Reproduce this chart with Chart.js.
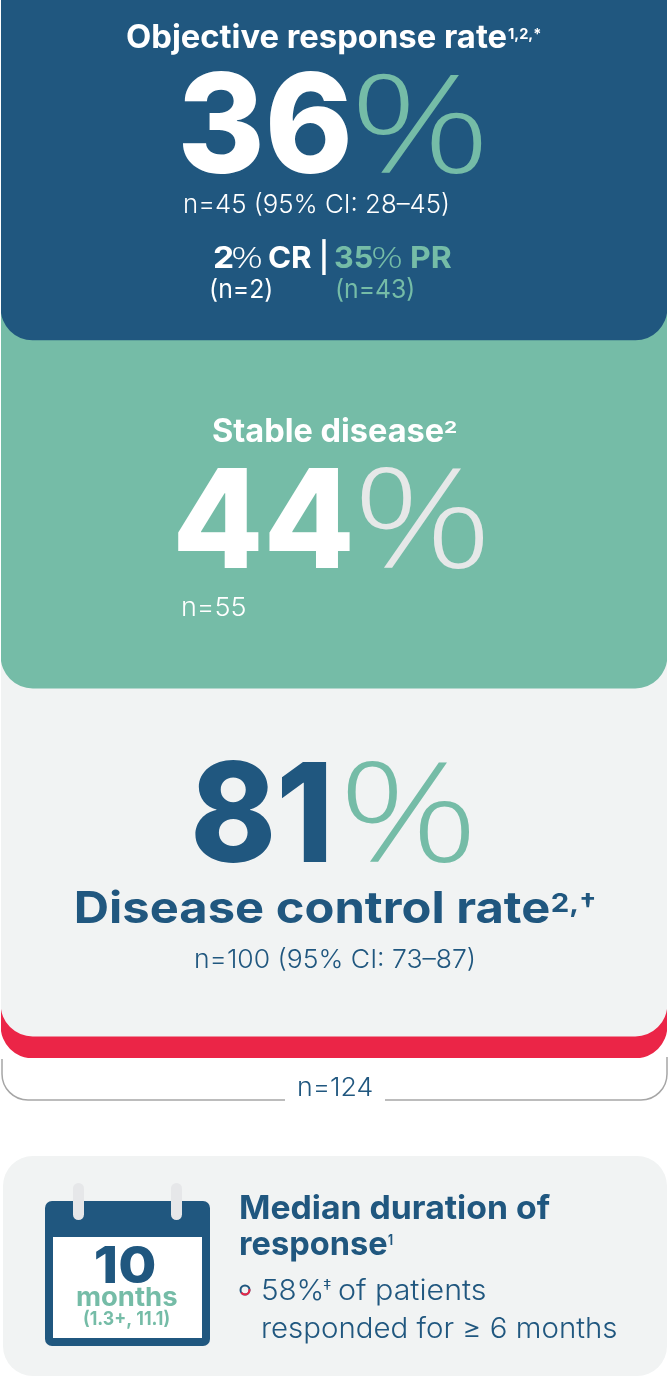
<!DOCTYPE html>
<html>
<head>
<meta charset="utf-8">
<style>
  html, body { margin: 0; padding: 0; background: #fff; }
  canvas { display: block; }
</style>
<script src="https://cdn.jsdelivr.net/npm/chart.js@4"></script>
</head>
<body>
<canvas id="responseChart" width="669" height="1376"></canvas>
<script>
// panels are not to scale in the source graphic: each one is one tier deep, plus a thin lip
const panelLabels = ['Objective response rate', 'Stable disease', 'Disease control rate', 'All patients'];
const panelTiers = [1, 2, 3, 3.063];
const responseRates = [36, 44, 81];
const patientCounts = [45, 55, 100];
const ciRanges = ['28–45', null, '73–87'];
const crRate = 2;
const prRate = 35;
const crCount = 2;
const prCount = 43;
const totalPatients = 124;
const medianMonths = 10;
const durationRange = '(1.3+, 11.1)';
const over6Months = 58;

const NAVY = '#20577f';
const GREEN = '#75bca7';
const GREY = '#f1f3f3';
const RED = '#eb2547';
const FONT = 'Inter, "Noto Sans", sans-serif';

// draws text so that its ink runs from x0 to x1 on the given baseline
function text(ctx, str, x0, x1, y, size, weight, color) {
  ctx.save();
  ctx.font = `${weight} ${size}px ${FONT}`;
  ctx.fillStyle = color;
  ctx.textBaseline = 'alphabetic';
  const m = ctx.measureText(str);
  const ink = m.actualBoundingBoxRight + m.actualBoundingBoxLeft;
  const sx = (x1 - x0) / ink;
  ctx.translate(x0 + m.actualBoundingBoxLeft * sx, y);
  ctx.scale(sx, 1);
  ctx.fillText(str, 0, 0);
  ctx.restore();
}

// the thin percent sign, fitted to a box on both axes
function percentSign(ctx, x0, x1, y0, y1, color) {
  ctx.save();
  ctx.font = '300 140px "Open Sans"';
  ctx.fillStyle = color;
  ctx.textBaseline = 'alphabetic';
  const m = ctx.measureText('%');
  const sx = (x1 - x0) / (m.actualBoundingBoxRight + m.actualBoundingBoxLeft);
  const sy = (y1 - y0) / (m.actualBoundingBoxAscent + m.actualBoundingBoxDescent);
  ctx.translate(x0 + m.actualBoundingBoxLeft * sx, y1 - m.actualBoundingBoxDescent * sy);
  ctx.scale(sx, sy);
  ctx.fillText('%', 0, 0);
  ctx.restore();
}

function drawPanelText(ctx) {
  // objective response
  text(ctx, panelLabels[0], 127, 506, 48, 32, 700, '#fff');
  text(ctx, '1,2,*', 508, 541, 39, 15, 700, '#fff');
  text(ctx, String(responseRates[0]), 182, 348, 173, 138, 800, '#fff');
  percentSign(ctx, 358, 482, 73, 174, GREEN);
  text(ctx, `n=${patientCounts[0]} (95% CI: ${ciRanges[0]})`, 185, 448, 213, 26, 300, '#fff');
  text(ctx, String(crRate), 214, 233, 268, 30, 700, '#fff');
  percentSign(ctx, 233, 261, 246, 268, '#fff');
  text(ctx, 'CR', 269, 312, 268, 30, 700, '#fff');
  text(ctx, '|', 322, 326, 268, 30, 700, '#fff');
  text(ctx, String(prRate), 335, 372, 268, 30, 700, GREEN);
  percentSign(ctx, 373, 401, 246, 268, GREEN);
  text(ctx, 'PR', 411, 452, 268, 30, 700, GREEN);
  text(ctx, `(n=${crCount})`, 211, 271, 298, 26, 400, '#fff');
  text(ctx, `(n=${prCount})`, 337, 413, 298, 26, 400, GREEN);

  // stable disease
  text(ctx, panelLabels[1], 213, 443, 442, 32, 700, '#fff');
  text(ctx, '2', 444, 457, 433, 16, 700, '#fff');
  text(ctx, String(responseRates[1]), 178, 350, 568, 138, 800, '#fff');
  percentSign(ctx, 361, 484, 467, 569, '#e6e8e8');
  text(ctx, `n=${patientCounts[1]}`, 183, 245, 616, 26, 300, '#fff');

  // disease control
  text(ctx, String(responseRates[2]), 195, 327, 862, 138, 800, NAVY);
  percentSign(ctx, 347, 470, 761, 863, GREEN);
  text(ctx, panelLabels[2], 76, 549, 923, 44, 700, NAVY);
  text(ctx, '2,†', 552, 595, 912, 26, 700, NAVY);
  text(ctx, `n=${patientCounts[2]} (95% CI: ${ciRanges[2]})`, 196, 474, 968, 26, 300, NAVY);
}

function drawBracket(ctx) {
  ctx.save();
  ctx.strokeStyle = '#a6a6a6';
  ctx.lineWidth = 1.5;
  ctx.beginPath();
  ctx.moveTo(285, 1100);
  ctx.lineTo(28, 1100);
  ctx.arcTo(2, 1100, 2, 1074, 26);
  ctx.lineTo(2, 1059);
  ctx.moveTo(385, 1100);
  ctx.lineTo(641, 1100);
  ctx.arcTo(667, 1100, 667, 1074, 26);
  ctx.lineTo(667, 1057);
  ctx.stroke();
  ctx.restore();
  text(ctx, `n=${totalPatients}`, 299, 372, 1096, 26, 300, NAVY);
}

function drawDurationCard(ctx) {
  ctx.save();
  ctx.fillStyle = GREY;
  ctx.beginPath();
  ctx.roundRect(3, 1156, 664, 220, 30);
  ctx.fill();

  // calendar
  ctx.fillStyle = NAVY;
  ctx.beginPath();
  ctx.roundRect(45, 1201, 165, 145, 7);
  ctx.fill();
  ctx.fillStyle = '#fff';
  ctx.fillRect(53, 1237, 149, 101);
  ctx.fillStyle = '#e6e7e9';
  [73, 171].forEach((x) => {
    ctx.beginPath();
    ctx.roundRect(x, 1183, 11, 37, 5.5);
    ctx.fill();
  });

  // bullet ring: navy with a red lower right
  ctx.lineWidth = 2;
  ctx.strokeStyle = NAVY;
  ctx.beginPath();
  ctx.arc(245, 1290, 4.5, 0, Math.PI * 2);
  ctx.stroke();
  ctx.strokeStyle = RED;
  ctx.beginPath();
  ctx.arc(245, 1290, 4.5, -0.2, Math.PI * 0.8);
  ctx.stroke();
  ctx.restore();

  text(ctx, String(medianMonths), 96, 155, 1283, 51, 800, NAVY);
  text(ctx, 'months', 77, 177, 1306, 26, 700, GREEN);
  text(ctx, durationRange, 84, 169, 1325, 19, 700, GREEN);

  text(ctx, 'Median duration of', 241, 550, 1219, 33, 700, NAVY);
  text(ctx, 'response', 241, 387, 1255, 33, 700, NAVY);
  text(ctx, '1', 388, 393, 1245, 14, 700, NAVY);
  text(ctx, `${over6Months}%`, 263, 322, 1300, 28, 300, NAVY);
  text(ctx, '‡', 323, 331, 1290, 15, 400, NAVY);
  text(ctx, 'of patients', 339, 485, 1300, 28, 300, NAVY);
  text(ctx, 'responded for ≥ 6 months', 263, 616, 1338, 28, 300, NAVY);
}

const annotations = {
  id: 'annotations',
  afterDraw(chart) {
    const ctx = chart.ctx;
    drawPanelText(ctx);
    drawBracket(ctx);
    drawDurationCard(ctx);
  }
};

const panelColors = [NAVY, GREEN, GREY, RED];

new Chart(document.getElementById('responseChart').getContext('2d'), {
  type: 'bar',
  data: {
    labels: ['Patients'],
    // first dataset is painted on top, so each panel's corners show the next one behind it
    datasets: panelLabels.map((label, i) => ({
      label,
      data: [panelTiers[i]],
      backgroundColor: panelColors[i],
      grouped: false,
      categoryPercentage: 1,
      barPercentage: 1,
      borderSkipped: false,
      borderRadius: { topLeft: 0, topRight: 0, bottomLeft: 32, bottomRight: 32 }
    }))
  },
  options: {
    responsive: false,
    animation: false,
    layout: { padding: { left: 1, right: 2, top: 0, bottom: 318 } },
    plugins: { legend: { display: false }, tooltip: { enabled: false } },
    scales: {
      x: { display: false },
      y: { display: false, reverse: true, min: 0.023, max: 3.063 }
    }
  },
  plugins: [annotations]
});
</script>
</body>
</html>
